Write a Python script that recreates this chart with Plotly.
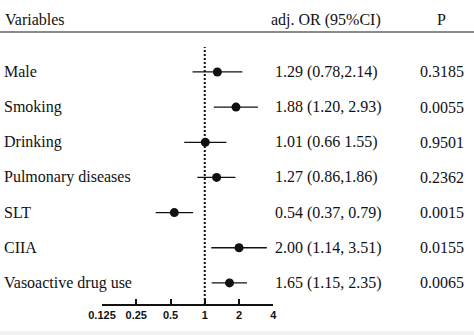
import numpy as np
import plotly.graph_objects as go

variables = ["Male", "Smoking", "Drinking", "Pulmonary diseases", "SLT", "CIIA", "Vasoactive drug use"]
odds_ratio = [1.29, 1.88, 1.01, 1.27, 0.54, 2.00, 1.65]
ci_low = [0.78, 1.20, 0.66, 0.86, 0.37, 1.14, 1.15]
ci_high = [2.14, 2.93, 1.55, 1.86, 0.79, 3.51, 2.35]
or_text = ["1.29 (0.78,2.14)", "1.88 (1.20, 2.93)", "1.01 (0.66 1.55)", "1.27 (0.86,1.86)",
           "0.54 (0.37, 0.79)", "2.00 (1.14, 3.51)", "1.65 (1.15, 2.35)"]
p_values = ["0.3185", "0.0055", "0.9501", "0.2362", "0.0015", "0.0155", "0.0065"]
tick_values = [0.125, 0.25, 0.5, 1, 2, 4]
tick_labels = ["0.125", "0.25", "0.5", "1", "2", "4"]

W, H = 474, 335
serif = "'Times New Roman', 'Liberation Serif', serif"
sans = "Arial, 'Liberation Sans', sans-serif"
ink = "#111111"

rows = list(range(len(variables)))
lx = np.log2(odds_ratio)
err_lo = lx - np.log2(ci_low)
err_hi = np.log2(ci_high) - lx

fig = go.Figure()
fig.add_trace(go.Scatter(
    x=lx, y=rows, mode="markers",
    marker=dict(size=9, color=ink),
    error_x=dict(type="data", symmetric=False, array=err_hi, arrayminus=err_lo,
                 width=0, thickness=1.3, color=ink),
    showlegend=False, hoverinfo="skip",
))

# no-effect line at OR = 1
fig.add_shape(type="line", xref="x", yref="y domain", x0=0, x1=0, y0=0, y1=1,
              line=dict(color=ink, width=2, dash="2px,2px"))
# rule under the column headers
fig.add_shape(type="line", xref="paper", yref="paper", x0=0, x1=1,
              y0=1 - 32 / H, y1=1 - 32 / H, line=dict(color="#8a8a8a", width=2))
# faint strip along the bottom edge
fig.add_shape(type="rect", xref="paper", yref="paper", x0=0, x1=1, y0=0, y1=4 / H,
              line=dict(width=0), fillcolor="#f1f1f1", layer="below")

def label(text, x, y, yref, anchor):
    return dict(text=text, xref="paper", yref=yref, x=x, y=y, xanchor=anchor,
                yanchor="middle", showarrow=False, borderpad=0,
                font=dict(family=serif, size=16, color=ink))

annotations = []
hdr_y = 1 - 20 / H
annotations.append(label("Variables", 4 / W, hdr_y, "paper", "left"))
annotations.append(label("adj. OR (95%CI)", 326 / W, hdr_y, "paper", "center"))
annotations.append(label("P", 441 / W, hdr_y, "paper", "center"))
for i, name in enumerate(variables):
    annotations.append(label(name, 3 / W, i, "y", "left"))
    annotations.append(label(or_text[i], 274 / W, i, "y", "left"))
    annotations.append(label(p_values[i], 419 / W, i, "y", "left"))

x0_px, x1_px = 102, 273.3
y_top_px, y_bot_px = 47, 304
fig.update_layout(
    width=W, height=H, margin=dict(l=0, r=0, t=0, b=0, autoexpand=False),
    paper_bgcolor="white", plot_bgcolor="rgba(0,0,0,0)",
    annotations=annotations,
    xaxis=dict(domain=[x0_px / W, x1_px / W], range=[-3, 2], automargin=False,
               tickvals=np.log2(tick_values), ticktext=tick_labels,
               ticks="inside", ticklen=5, tickwidth=1.5, tickcolor=ink,
               showline=True, linecolor=ink, linewidth=1.5,
               showgrid=False, zeroline=False,
               tickfont=dict(family=sans, size=11, color=ink, weight="bold")),
    yaxis=dict(domain=[1 - y_bot_px / H, 1 - y_top_px / H], automargin=False,
               range=[6.6, -0.71], visible=False, showgrid=False, zeroline=False),
)

fig.write_html("out.html")
